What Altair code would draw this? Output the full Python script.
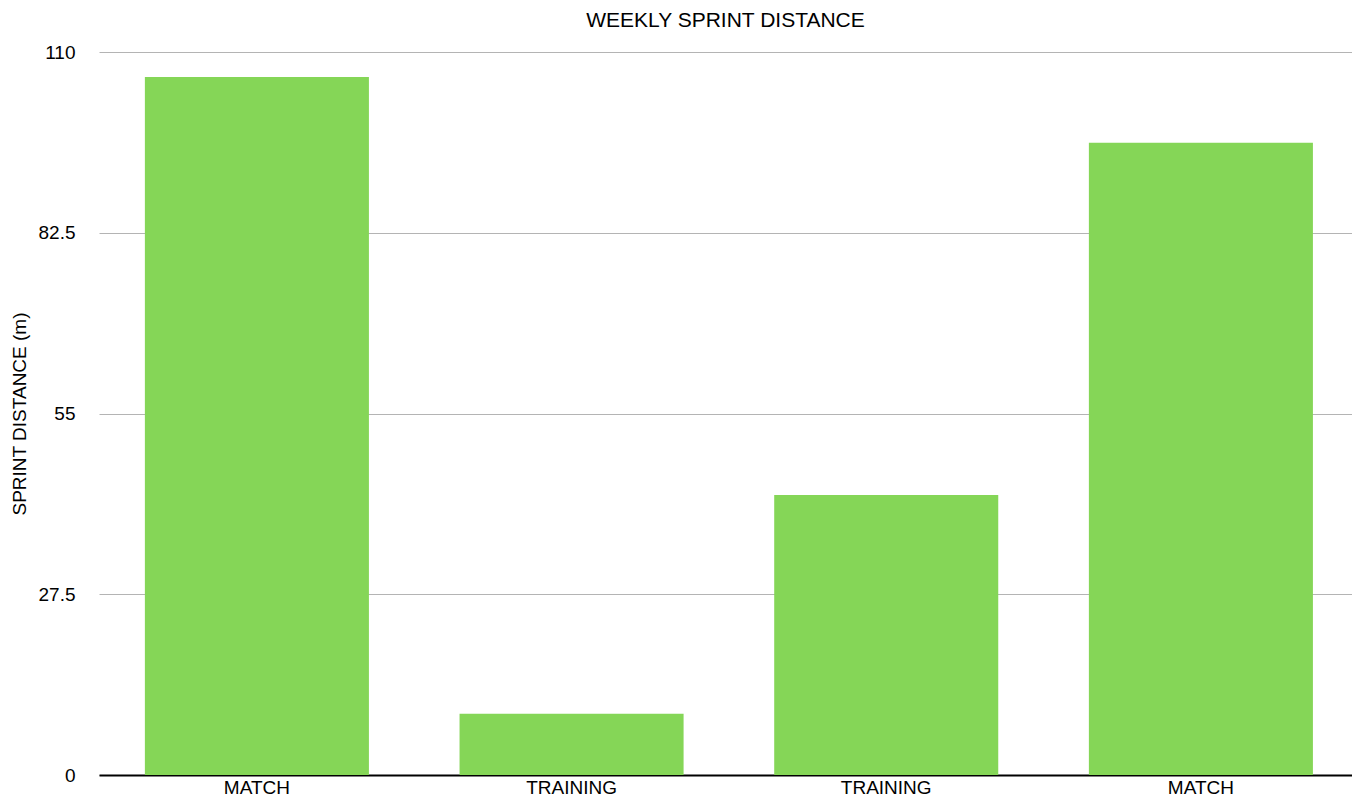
import altair as alt
import pandas as pd

categories = ["MATCH", "TRAINING", "TRAINING", "MATCH"]
distances = [106.2, 9.3, 42.6, 96.2]
y_ticks = [0, 27.5, 55, 82.5, 110]

df = pd.DataFrame({
    "idx": list(range(len(categories))),
    "label": categories,
    "dist": distances,
})

label_expr = "[" + ",".join(f"'{c}'" for c in categories) + "][datum.value]"

FONT = "Liberation Sans"

chart = alt.Chart(df).mark_bar(color="#85D657").encode(
    x=alt.X(
        "idx:O",
        title=None,
        scale=alt.Scale(paddingInner=0.288, paddingOuter=0.135, align=0.54),
        axis=alt.Axis(
            labelExpr=label_expr,
            labelAngle=0,
            labelFontSize=19,
            labelFont=FONT,
            labelColor="#000000",
            labelPadding=3,
            ticks=False,
            domainColor="#000000",
            domainWidth=2,
            grid=False,
        ),
    ),
    y=alt.Y(
        "dist:Q",
        title="SPRINT DISTANCE (m)",
        scale=alt.Scale(domain=[0, 110], nice=False),
        axis=alt.Axis(
            values=y_ticks,
            format=".4~g",
            labelFontSize=19,
            labelFont=FONT,
            labelColor="#000000",
            labelPadding=24,
            ticks=False,
            domain=False,
            grid=True,
            gridColor="#B4B4B4",
            gridWidth=1,
            titleFontSize=19,
            titleFont=FONT,
            titleFontWeight="normal",
            titleColor="#000000",
            titleX=-80,
            titleBaseline="middle",
        ),
    ),
).properties(
    width=1253,
    height=723,
    title=alt.TitleParams(
        "WEEKLY SPRINT DISTANCE",
        fontSize=21,
        font=FONT,
        fontWeight="normal",
        color="#000000",
        anchor="middle",
        baseline="top",
        offset=12,
    ),
    autosize=alt.AutoSizeParams(type="none"),
    padding={"left": 91, "top": 44, "right": 0, "bottom": 25},
).configure_view(stroke=None)

chart.save("out.html", embed_options={"renderer": "svg", "actions": False})
